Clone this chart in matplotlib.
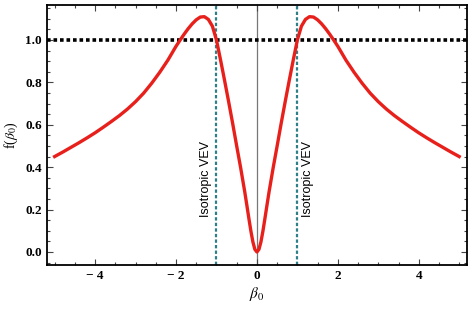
import numpy as np
import matplotlib
matplotlib.use("Agg")
import matplotlib.pyplot as plt
from matplotlib.ticker import MultipleLocator

plt.rcParams["mathtext.fontset"] = "stix"

# curve values read for beta >= 0 (the curve is symmetric)
beta_half = [0.0, 0.05, 0.1, 0.15, 0.2, 0.25, 0.3, 0.4, 0.5, 0.6, 0.7, 0.8,
             0.9, 1.0, 1.1, 1.2, 1.3, 1.4, 1.5, 1.6, 1.7, 1.8, 1.9, 2.0,
             2.2, 2.4, 2.6, 2.8, 3.0, 3.2, 3.4, 3.6, 3.8, 4.0,
             4.2, 4.4, 4.6, 4.8, 5.0]
f_half = [0.0, 0.012, 0.048, 0.10, 0.16, 0.222, 0.283, 0.395, 0.50, 0.607,
          0.71, 0.81, 0.907, 1.0, 1.065, 1.097, 1.11, 1.108, 1.095, 1.076,
          1.053, 1.027, 0.999, 0.97,
          0.905, 0.848, 0.796, 0.749, 0.709, 0.674, 0.643, 0.615, 0.588, 0.562,
          0.538, 0.515, 0.493, 0.471, 0.45]

vev = [-1.0, 1.0]
ref_level = 1.0
x_ticks = [-4, -2, 0, 2, 4]
y_ticks = [0.0, 0.2, 0.4, 0.6, 0.8, 1.0]

beta = np.concatenate([-np.array(beta_half[:0:-1]), beta_half])
fval = np.concatenate([np.array(f_half[:0:-1]), f_half])

fig = plt.figure(figsize=(4.74, 3.12), dpi=100)
ax = fig.add_axes([0.099, 0.151, 0.886, 0.833])

ax.axvline(0, color="#777777", lw=0.9, zorder=1)
ax.axhline(ref_level, color="black", lw=2.6, ls=(0, (1.0, 0.8)), zorder=2)
for v in vev:
    ax.axvline(v, color="#2f7f86", lw=1.6, ls=(0, (1.5, 1.0)), zorder=2)
ax.plot(beta, fval, color="#e8201c", lw=2.4, zorder=3,
        solid_joinstyle="round")

ax.text(-1.27, 0.345, "Isotropic VEV", rotation=90, ha="center", va="center",
        family="Liberation Sans", fontsize=9)
ax.text(1.27, 0.345, "Isotropic VEV", rotation=90, ha="center", va="center",
        family="Liberation Sans", fontsize=9)

ax.set_xlim(-5.19, 5.19)
ax.set_ylim(-0.061, 1.165)
ax.set_xticks(x_ticks)
ax.set_yticks(y_ticks)
ax.set_xticklabels(["\u2212 4", "\u2212 2", "0", "2", "4"])
ax.set_yticklabels(["%.1f" % t for t in y_ticks])
ax.xaxis.set_minor_locator(MultipleLocator(0.5))
ax.yaxis.set_minor_locator(MultipleLocator(0.05))
ax.tick_params(which="both", direction="in", top=True, right=True,
               width=0.8, color="#444444")
ax.tick_params(which="major", length=4)
ax.tick_params(which="minor", length=2.5)
for lab in ax.get_xticklabels() + ax.get_yticklabels():
    lab.set_family("Liberation Serif")
    lab.set_fontweight("bold")
    lab.set_fontsize(9.5)
for s in ax.spines.values():
    s.set_linewidth(1.3)

ax.set_xlabel(r"$\beta_0$", fontsize=11, family="Liberation Serif", labelpad=2)
ax.set_ylabel(r"f($\beta_0$)", fontsize=10, family="Liberation Serif")

fig.savefig("out.png", dpi=100)
